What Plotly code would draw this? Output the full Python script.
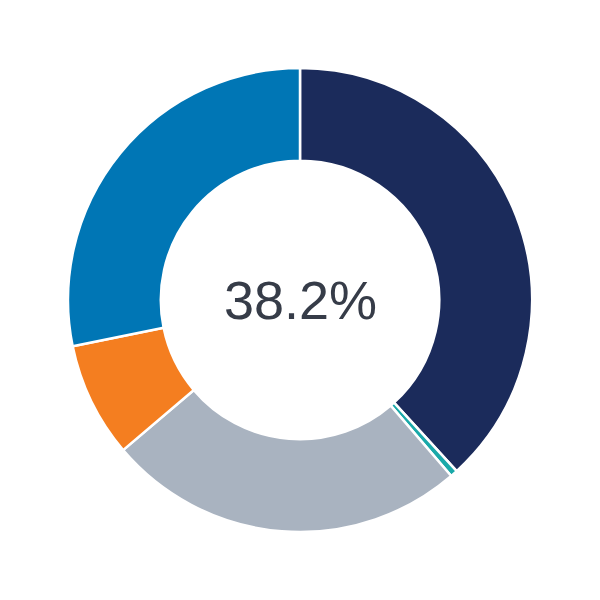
import plotly.graph_objects as go

labels = ["Navy", "Teal", "Gray", "Orange", "Blue"]
values = [38.2, 0.5, 25.1, 8.0, 28.2]
colors = ["#1b2b5b", "#1aa9a9", "#a9b3c0", "#f47e20", "#0076b5"]
center_text = "38.2%"

fig = go.Figure(go.Pie(
    labels=labels,
    values=values,
    hole=0.6,
    sort=False,
    direction="clockwise",
    rotation=0,
    marker=dict(colors=colors, line=dict(color="white", width=2.5)),
    textinfo="none",
    hoverinfo="label+percent",
    showlegend=False,
))
fig.add_annotation(
    text=center_text, x=0.5, y=0.5, xref="paper", yref="paper",
    showarrow=False,
    font=dict(family="Liberation Sans, Arial, sans-serif", size=54, color="#363c48"),
)
fig.update_layout(
    width=600, height=600,
    margin=dict(l=60, r=76, t=60, b=76),
    paper_bgcolor="white", plot_bgcolor="white",
)
fig.write_html("out.html")
